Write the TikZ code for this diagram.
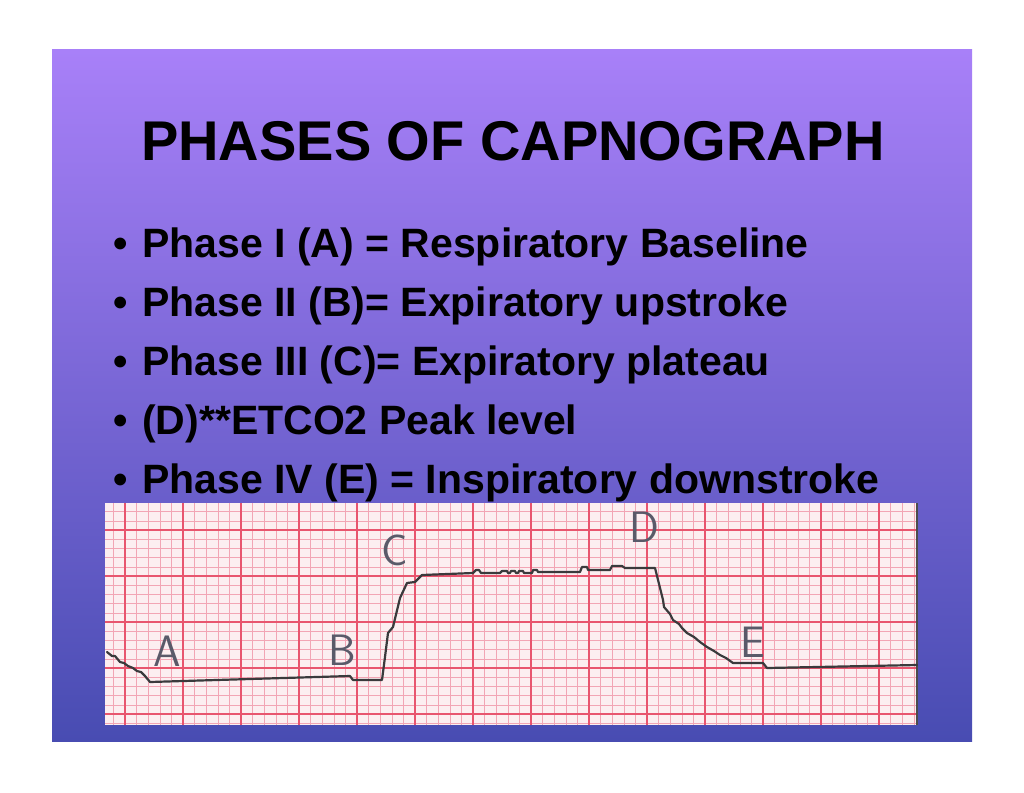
\documentclass[tikz,border=0pt]{standalone}
\usepackage{fontspec}
\setmainfont{Liberation Sans}
\usepackage{tikz}
\usetikzlibrary{positioning}
\usepackage{xcolor}
\definecolor{slidetop}{RGB}{168,128,248}
\definecolor{slidebottom}{RGB}{72,76,178}
\definecolor{paperpink}{RGB}{252,238,240}
\definecolor{minorred}{RGB}{242,165,180}
\definecolor{majorred}{RGB}{232,85,110}
\definecolor{pencil}{RGB}{58,58,60}
\definecolor{handgray}{RGB}{90,90,105}
\tikzstyle{titletext} = [font=\fontsize{56}{60}\selectfont\bfseries, text=black, inner sep=0pt]
\tikzstyle{bullettext} = [font=\fontsize{41}{44}\selectfont\bfseries, text=black, inner sep=0pt, anchor=base west]
\tikzstyle{bulletdot} = [font=\fontsize{41}{44}\selectfont\bfseries, text=black, inner sep=0pt, anchor=base east]
\tikzstyle{minorline} = [line width=0.6pt, color=minorred]
\tikzstyle{majorline} = [line width=1.1pt, color=majorred]
\tikzstyle{trace} = [line width=2.2pt, color=pencil, line join=round, line cap=round]
\tikzstyle{handletter} = [font=\fontsize{44}{48}\selectfont\sffamily, text=handgray, inner sep=0pt]

\begin{document}
\begin{tikzpicture}[x=1pt, y=-1pt]
\useasboundingbox (0,0) rectangle (1024,792);
% Slide background
\shade[top color=slidetop, bottom color=slidebottom] (52,50) rectangle (972,741);

% Title
\node[titletext] (title) at (513,141) {PHASES OF CAPNOGRAPH};

% Bullets
\node[bullettext] (p1) at (142,257) {Phase I (A) = Respiratory Baseline};
\node[bullettext] (p2) at (142,316) {Phase II (B)= Expiratory upstroke};
\node[bullettext] (p3) at (142,375) {Phase III (C)= Expiratory plateau};
\node[bullettext] (p4) at (142,434) {(D)**ETCO2 Peak level};
\node[bullettext] (p5) at (142,493) {Phase IV (E) = Inspiratory downstroke};
\node[bulletdot, left=14pt of p1.base west, anchor=base east] (b1) {•};
\node[bulletdot, left=14pt of p2.base west, anchor=base east] (b2) {•};
\node[bulletdot, left=14pt of p3.base west, anchor=base east] (b3) {•};
\node[bulletdot, left=14pt of p4.base west, anchor=base east] (b4) {•};
\node[bulletdot, left=14pt of p5.base west, anchor=base east] (b5) {•};

% Chart paper
\fill[paperpink] (105,503) rectangle (917,725);
\begin{scope}
\clip (105,503) rectangle (917,725);
\foreach \i in {0,...,70} \draw[minorline] ({101.8+11.6*\i},503) -- ++(0,222);
\foreach \j in {0,...,24} \draw[minorline] (105,{502.4+9.2*\j}) -- ++(812,0);
\foreach \i in {0,...,13} \draw[majorline] ({125+58*\i},503) -- ++(0,222);
\foreach \j in {0,...,4} \draw[majorline] (105,{530+46*\j}) -- ++(812,0);
\end{scope}
\draw[line width=1.2pt, color=black!70] (917,503) -- (917,725);

% Capnogram trace
\draw[trace] (107,652) -- (112,656) -- (115,656) -- (120,662) -- (124,663) -- (128,666)
  -- (133,668) -- (137,671) -- (141,672) -- (145,676) -- (150,682)
  -- (350,676) -- (353,680) -- (382,680) -- (385,657) -- (388,633) -- (393,627)
  -- (400,598) -- (407,583) -- (415,582) -- (422,575) -- (473,573)
  -- (476,570) -- (479,570) -- (481,573) -- (500,573)
  -- (502,571) -- (507,571) -- (508,573) -- (510,573) -- (511,571) -- (515,571) -- (516,573)
  -- (518,573) -- (519,571) -- (523,571) -- (524,573) -- (532,573) -- (533,570) -- (537,570) -- (538,572)
  -- (580,572) -- (582,567) -- (587,567) -- (588,570) -- (610,570) -- (612,566)
  -- (622,566) -- (625,568) -- (655,568) -- (663,600) -- (664,607)
  -- (670,614) -- (673,620) -- (679,624) -- (682,628) -- (687,633) -- (694,637)
  -- (700,642) -- (707,647) -- (714,651) -- (720,655) -- (726,658) -- (733,663)
  -- (763,663) -- (767,668) -- (917,665);

% Letters
\node[handletter] (lbla) at (167,651) {A};
\node[handletter] (lblb) at (342,650) {B};
\node[handletter] (lblc) at (395,550) {C};
\node[handletter] (lbld) at (644,527) {D};
\node[handletter] (lble) at (753,642) {E};
\end{tikzpicture}
\end{document}
